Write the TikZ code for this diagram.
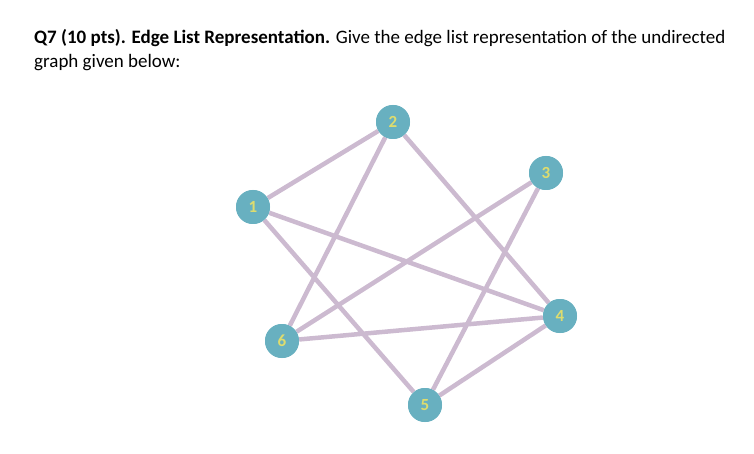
\documentclass[tikz,border=0pt]{standalone}
\usepackage{fontspec}
\setmainfont{Carlito}
\begin{document}
\begin{tikzpicture}[x=1pt,y=-1pt,
  vtx/.style={circle,fill=nodeteal,minimum size=34pt,inner sep=0pt,font=\fontsize{17}{17}\selectfont\bfseries,text=numyellow},
  edge/.style={draw=edgelav,line width=4.5pt}]
\definecolor{nodeteal}{RGB}{104,176,192}
\definecolor{numyellow}{RGB}{222,220,110}
\definecolor{edgelav}{RGB}{204,186,208}
\useasboundingbox (0,0) rectangle (754,454);
\node[anchor=base west,inner sep=0pt,font=\fontsize{19}{23}\selectfont] (t1) at (34,44) {\textbf{Q7 (10 pts). Edge List Representation.} Give the edge list representation of the undirected};
\node[anchor=base west,inner sep=0pt,font=\fontsize{19}{23}\selectfont] (t2) at (34,68) {graph given below:};
\node[vtx] (n2) at (393,122) {};
\node[vtx] (n3) at (546,173) {};
\node[vtx] (n1) at (253,207) {};
\node[vtx] (n4) at (560,316) {};
\node[vtx] (n6) at (282,341) {};
\node[vtx] (n5) at (425,405) {};
\path[edge] (n1)--(n2) (n2)--(n6) (n2)--(n4) (n1)--(n4) (n1)--(n5) (n3)--(n6) (n3)--(n5) (n6)--(n4) (n5)--(n4);
\node[vtx] at (n2) {2};
\node[vtx] at (n3) {3};
\node[vtx] at (n1) {1};
\node[vtx] at (n4) {4};
\node[vtx] at (n6) {6};
\node[vtx] at (n5) {5};
\end{tikzpicture}
\end{document}
